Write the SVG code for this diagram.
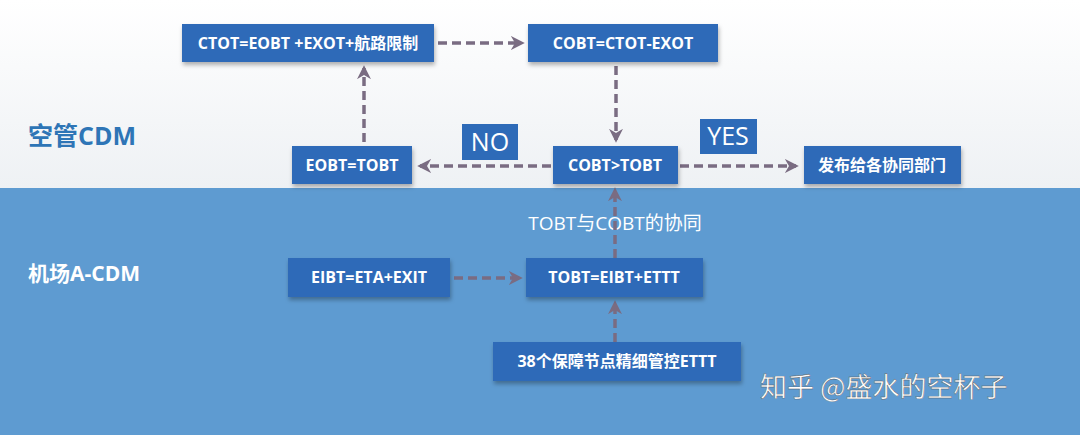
<svg xmlns="http://www.w3.org/2000/svg" width="1080" height="435" viewBox="0 0 1080 435">
<defs>
<linearGradient id="bg" x1="0" y1="0" x2="0" y2="1"><stop offset="0" stop-color="#ffffff"/><stop offset="1" stop-color="#eef1f4"/></linearGradient>
<filter id="sh" x="-10%" y="-20%" width="130%" height="160%"><feDropShadow dx="1" dy="3" stdDeviation="2" flood-color="#000" flood-opacity="0.3"/></filter>
<marker id="ar" viewBox="0 0 10 10" refX="8" refY="5" markerWidth="4" markerHeight="4" orient="auto"><path d="M0,0 L10,5 L0,10 L3,5 Z" fill="#7a6c82"/></marker>
<style>
.box{fill:#2e6bb8;filter:url(#sh)}
.t{font-family:"Open Sans","Noto Sans CJK SC",sans-serif;font-weight:bold;font-size:16px;fill:#fff;text-anchor:middle}
.c{stroke:#7a6c82;stroke-width:3.5;stroke-dasharray:9 5;fill:none;marker-end:url(#ar)}
.lab{fill:#2e6bb8}
.lt{font-family:"Open Sans",sans-serif;font-size:25px;fill:#fff;text-anchor:middle}
</style>
</defs>
<rect width="1080" height="188" fill="url(#bg)"/>
<rect y="188" width="1080" height="247" fill="#5e9bd1"/>
<text x="28" y="145" font-family="'Open Sans','Noto Sans CJK SC',sans-serif" font-weight="bold" font-size="25" fill="#2e75b6">空管CDM</text>
<text x="28" y="281" font-family="'Open Sans','Noto Sans CJK SC',sans-serif" font-weight="bold" font-size="21" fill="#fff">机场A-CDM</text>
<text x="615" y="230" font-family="'Open Sans','Noto Sans CJK SC',sans-serif" font-size="19" fill="#fff" text-anchor="middle">TOBT与COBT的协同</text>
<g id="connectors">
<path class="c" d="M438 43 H522"/>
<path class="c" d="M616 66 V140"/>
<path class="c" d="M364 142 V68"/>
<path class="c" d="M551 166 H420"/>
<path class="c" d="M680 166 H796"/>
<path class="c" d="M615 258 V190"/>
<path class="c" d="M454 278 H520"/>
<path class="c" d="M615 342 V303"/>
</g>
<g id="n1"><rect class="box" x="182" y="24" width="252" height="38"/><text class="t" x="308" y="49">CTOT=EOBT +EXOT+航路限制</text></g>
<g id="n2"><rect class="box" x="528" y="24" width="190" height="38"/><text class="t" x="623" y="49">COBT=CTOT-EXOT</text></g>
<g id="n3"><rect class="box" x="292" y="146" width="120" height="38"/><text class="t" x="352" y="171">EOBT=TOBT</text></g>
<g id="n4"><rect class="box" x="553" y="146" width="125" height="38"/><text class="t" x="615" y="171">COBT&gt;TOBT</text></g>
<g id="n5"><rect class="box" x="804" y="146" width="157" height="38"/><text class="t" x="882" y="171">发布给各协同部门</text></g>
<g id="no"><rect class="lab" x="462" y="124" width="56" height="36"/><text class="lt" x="490" y="151">NO</text></g>
<g id="yes"><rect class="lab" x="700" y="119" width="57" height="35"/><text class="lt" x="728" y="145">YES</text></g>
<g id="n6"><rect class="box" x="288" y="258" width="162" height="39"/><text class="t" x="369" y="283">EIBT=ETA+EXIT</text></g>
<g id="n7"><rect class="box" x="526" y="258" width="177" height="39"/><text class="t" x="614" y="283">TOBT=EIBT+ETTT</text></g>
<g id="n8"><rect class="box" x="493" y="342" width="248" height="39"/><text class="t" x="617" y="367">38个保障节点精细管控ETTT</text></g>
<text x="760" y="397" font-family="'Noto Sans CJK SC',sans-serif" font-size="27" fill="#fff" stroke="#555" stroke-width="0.4">知乎 @盛水的空杯子</text>
</svg>
